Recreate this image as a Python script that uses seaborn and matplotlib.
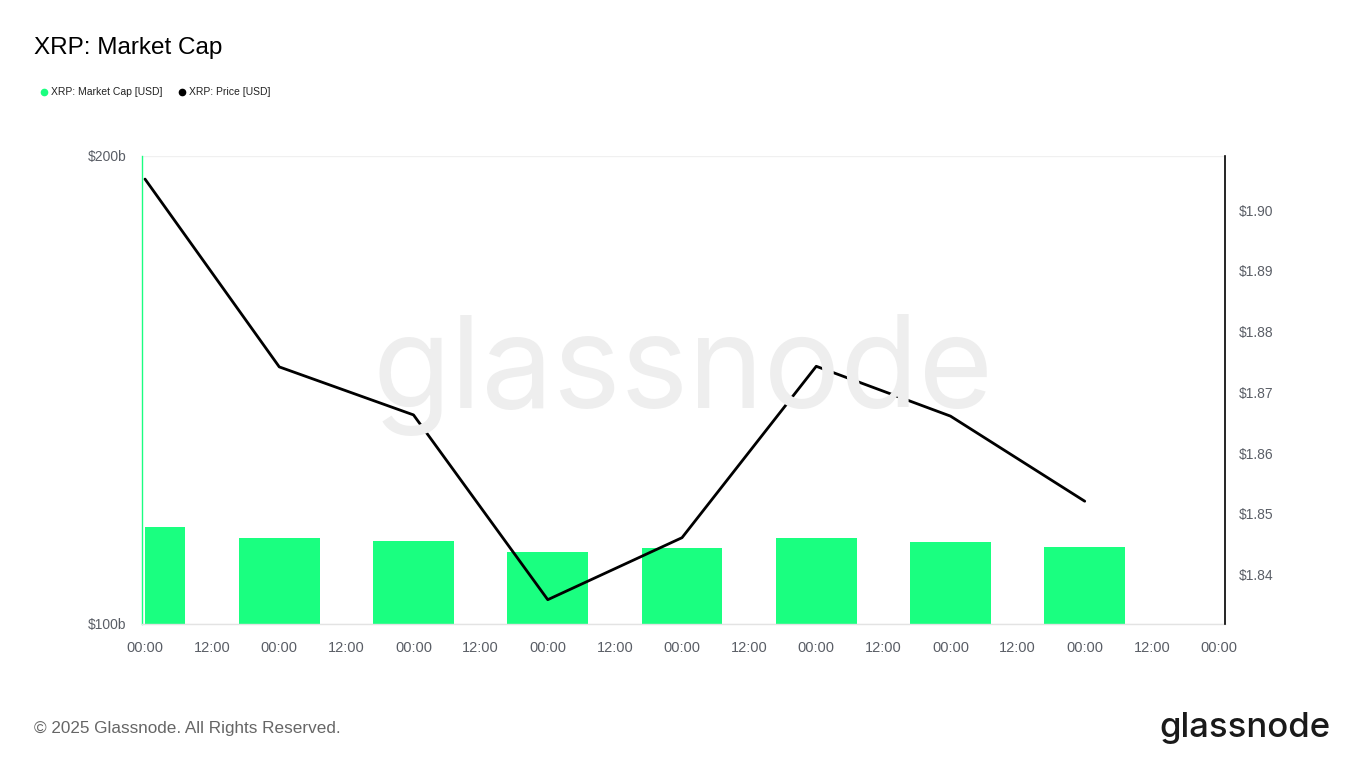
import numpy as np
import pandas as pd
import matplotlib
matplotlib.use('Agg')
import matplotlib.pyplot as plt
import seaborn as sns

# data (one point per day at 00:00)
days = [0, 1, 2, 3, 4, 5, 6, 7]
market_cap_b = [120.7, 118.4, 117.7, 115.4, 116.2, 118.4, 117.5, 116.5]
price_usd = [1.9051, 1.8742, 1.8663, 1.8359, 1.8461, 1.8743, 1.8661, 1.8521]

x_ticks = [i * 0.5 for i in range(17)]
x_tick_labels = ['00:00' if i % 2 == 0 else '12:00' for i in range(17)]
cap_ticks = [100, 200]
price_ticks = [1.84, 1.85, 1.86, 1.87, 1.88, 1.89, 1.90]

GREEN = '#1aff80'
GREY = '#5a5e66'

sns.set_theme(style='white')
plt.rcParams['font.family'] = ['Liberation Sans', 'DejaVu Sans']

df = pd.DataFrame({'day': days, 'cap': market_cap_b, 'price': price_usd})

fig = plt.figure(figsize=(13.66, 7.68), dpi=100)
ax = fig.add_axes([0.104, 0.1875, 0.7928, 0.6094])

sns.barplot(data=df, x='day', y='cap', native_scale=True, width=0.6,
            color=GREEN, saturation=1, edgecolor=GREEN, linewidth=0, ax=ax)
# the series starts at the first 00:00, so the first bar is cut there
for p in ax.patches:
    if p.get_x() < days[0]:
        p.set_width(p.get_x() + p.get_width() - days[0])
        p.set_x(days[0])
ax.set_xlim(-0.022, 8.045)
ax.set_ylim(100, 200)
ax.set_yticks(cap_ticks)
ax.set_yticklabels([f'${v}b' for v in cap_ticks])
ax.set_xticks(x_ticks)
ax.set_xticklabels(x_tick_labels)
ax.set_xlabel('')
ax.set_ylabel('')
ax.tick_params(axis='x', colors=GREY, labelsize=10.5, length=5, width=0.8,
               direction='out', color='#e3e3e3', pad=7.5)
ax.tick_params(axis='y', colors=GREY, labelsize=10, length=0, pad=11)
ax.yaxis.grid(True, color='#f0f0f0', linewidth=1)
ax.set_axisbelow(True)
for s in ['top', 'right']:
    ax.spines[s].set_visible(False)
ax.spines['left'].set_color(GREEN)
ax.spines['left'].set_linewidth(1)
ax.spines['bottom'].set_color('#e3e3e3')
ax.spines['bottom'].set_linewidth(1)

ax2 = ax.twinx()
sns.lineplot(data=df, x='day', y='price', color='black', linewidth=2, ax=ax2)
ax2.set_ylim(1.8319, 1.9089)
ax2.set_yticks(price_ticks)
ax2.set_yticklabels([f'${v:.2f}' for v in price_ticks])
ax2.set_ylabel('')
ax2.set_xlabel('')
ax2.tick_params(axis='y', colors=GREY, labelsize=10, length=0, pad=10)
for s in ['top', 'left', 'bottom']:
    ax2.spines[s].set_visible(False)
ax2.spines['right'].set_color('black')
ax2.spines['right'].set_linewidth(1.2)
ax2.set_xlim(-0.022, 8.045)

# watermark
fig.text(0.5, 0.512, 'glassnode', fontsize=92, color='#eeeeee',
         ha='center', va='center', family=['Inter', 'DejaVu Sans'], zorder=0)

# title and legend
fig.text(0.025, 0.938, 'XRP: Market Cap', fontsize=17.5, color='black',
         ha='left', va='center')
fig.lines.append(plt.Line2D([0.0325], [0.8805], marker='o', markersize=4.5,
                            color=GREEN, transform=fig.transFigure))
fig.text(0.037, 0.8805, 'XRP: Market Cap [USD]', fontsize=7.5, color='#222222',
         ha='left', va='center')
fig.lines.append(plt.Line2D([0.1335], [0.8805], marker='o', markersize=4.5,
                            color='black', transform=fig.transFigure))
fig.text(0.138, 0.8805, 'XRP: Price [USD]', fontsize=7.5, color='#222222',
         ha='left', va='center')

# footer
fig.text(0.025, 0.052, '\u00a9 2025 Glassnode. All Rights Reserved.', fontsize=12.3,
         color='#666666', ha='left', va='center')
fig.text(0.974, 0.052, 'glassnode', fontsize=25, color='#1a1a1a', weight='medium',
         ha='right', va='center', family=['Inter', 'DejaVu Sans'])

plt.savefig('out.png', dpi=100)
plt.close()
